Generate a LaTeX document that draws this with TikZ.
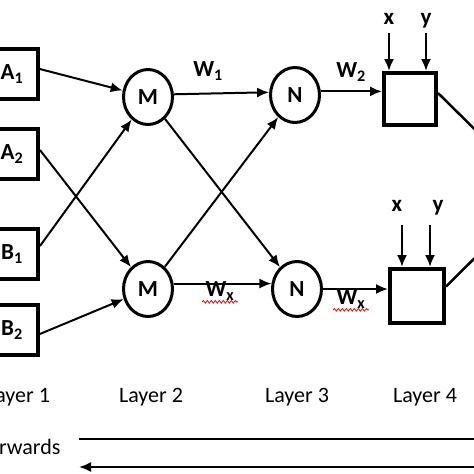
\documentclass[tikz,border=0pt]{standalone}
\usepackage{fontspec}
\setmainfont{Carlito}
\usetikzlibrary{arrows.meta}
\usetikzlibrary{shapes}
\usetikzlibrary{decorations.pathmorphing}
\usetikzlibrary{positioning}

\begin{document}
\begin{tikzpicture}[x=1pt,y=-1pt,
        lbl/.style={font=\fontsize{22}{26}\selectfont},
        blbl/.style={font=\fontsize{23}{27}\selectfont\bfseries},
        neuron/.style={draw,ellipse,line width=3pt,minimum width=49pt,minimum height=55pt,inner sep=0pt,blbl},
        inbox/.style={draw,rectangle,line width=4pt,minimum width=52pt,minimum height=50pt,inner sep=0pt,blbl},
        outbox/.style={inbox,minimum width=52pt,minimum height=52pt},
        wire/.style={line width=2pt,-{Latex[length=12pt,width=10pt]}},
        plain/.style={line width=2.5pt},
        wavy/.style={draw=red,line width=0.8pt,decorate,decoration={snake,amplitude=1.3pt,segment length=4pt}}]

    \useasboundingbox (0,0) rectangle (474,474);
    \clip (0,0) rectangle (474,474);

    % layer 1
    \node[inbox] (a1) at (12,74) {A\textsubscript{1}};
    \node[inbox] (a2) at (12,154) {A\textsubscript{2}};
    \node[inbox] (b1) at (12,254) {B\textsubscript{1}};
    \node[inbox] (b2) at (12,330) {B\textsubscript{2}};

    % layers 2 and 3
    \node[neuron] (m1) at (148,97) {M};
    \node[neuron] (m2) at (148,289) {M};
    \node[neuron] (n1) at (295,95) {N};
    \node[neuron] (n2) at (297,289) {N};

    % layer 4
    \node[outbox] (o1) at (410,99) {};
    \node[outbox,minimum width=54pt,minimum height=54pt] (o2) at (417,296) {};

    \draw[wire] (a1.10) -- (m1);
    \draw[wire] (a2.8) -- (m2);
    \draw[wire] (b1.16) -- (m1);
    \draw[wire] (b2.-8) -- (m2);

    \draw[wire] (m1.6) -- (n1.174);
    \draw[wire] (m1) -- (n2);
    \draw[wire] (m2) -- (n1);
    \draw[wire] (m2.12) -- (n2.168);

    \draw[wire] (n1.8) -- (n1.8 -| o1.west);
    \draw[wire] (n2.east) -- (n2.east -| o2.west);

    % weights
    \node[blbl] (w1) at (208,71) {W\textsubscript{1}};
    \node[blbl] (w2) at (351,72) {W\textsubscript{2}};
    \node[blbl] (wx1) at (220,291) {W\textsubscript{x}};
    \node[blbl] (wx2) at (351,299) {W\textsubscript{x}};
    \draw[wavy] ([yshift=2pt]wx1.south west) -- ([yshift=2pt]wx1.south east);
    \draw[wavy] ([yshift=2pt]wx2.south west) -- ([yshift=2pt]wx2.south east);

    % x and y inputs
    \node[blbl,anchor=base] (x1) at (389,24) {x};
    \node[blbl,anchor=base] (y1) at (426,24) {y};
    \node[blbl,anchor=base] (x2) at (397,211) {x};
    \node[blbl,anchor=base] (y2) at (438,211) {y};
    \coordinate (xa1) at (389,33);
    \coordinate (ya1) at (426,33);
    \coordinate (xa2) at (402,225);
    \coordinate (ya2) at (430,225);
    \draw[wire] (xa1) -- (xa1 |- o1.north);
    \draw[wire] (ya1) -- (ya1 |- o1.north);
    \draw[wire] (xa2) -- (xa2 |- o2.north);
    \draw[wire] (ya2) -- (ya2 |- o2.north);

    % outputs
    \coordinate (q1) at (510,164);
    \coordinate (q2) at (510,223);
    \draw[plain] (o1.12) -- (q1);
    \draw[plain] (o2.18) -- (q2);

    % layer names
    \node[lbl,anchor=base] (l1) at (18,402) {Layer 1};
    \node[lbl,anchor=base] (l2) at (151,402) {Layer 2};
    \node[lbl,anchor=base] (l3) at (297,402) {Layer 3};
    \node[lbl,anchor=base] (l4) at (425,402) {Layer 4};

    % directions
    \node[lbl,anchor=base east] (fw) at (64,454) {Forwards};
    \coordinate (f0) at (79,439);
    \coordinate (f1) at (500,439);
    \coordinate (k0) at (500,467);
    \coordinate (k1) at (79,467);
    \draw[wire] (f0) -- (f1);
    \draw[wire] (k0) -- (k1);
\end{tikzpicture}
\end{document}
